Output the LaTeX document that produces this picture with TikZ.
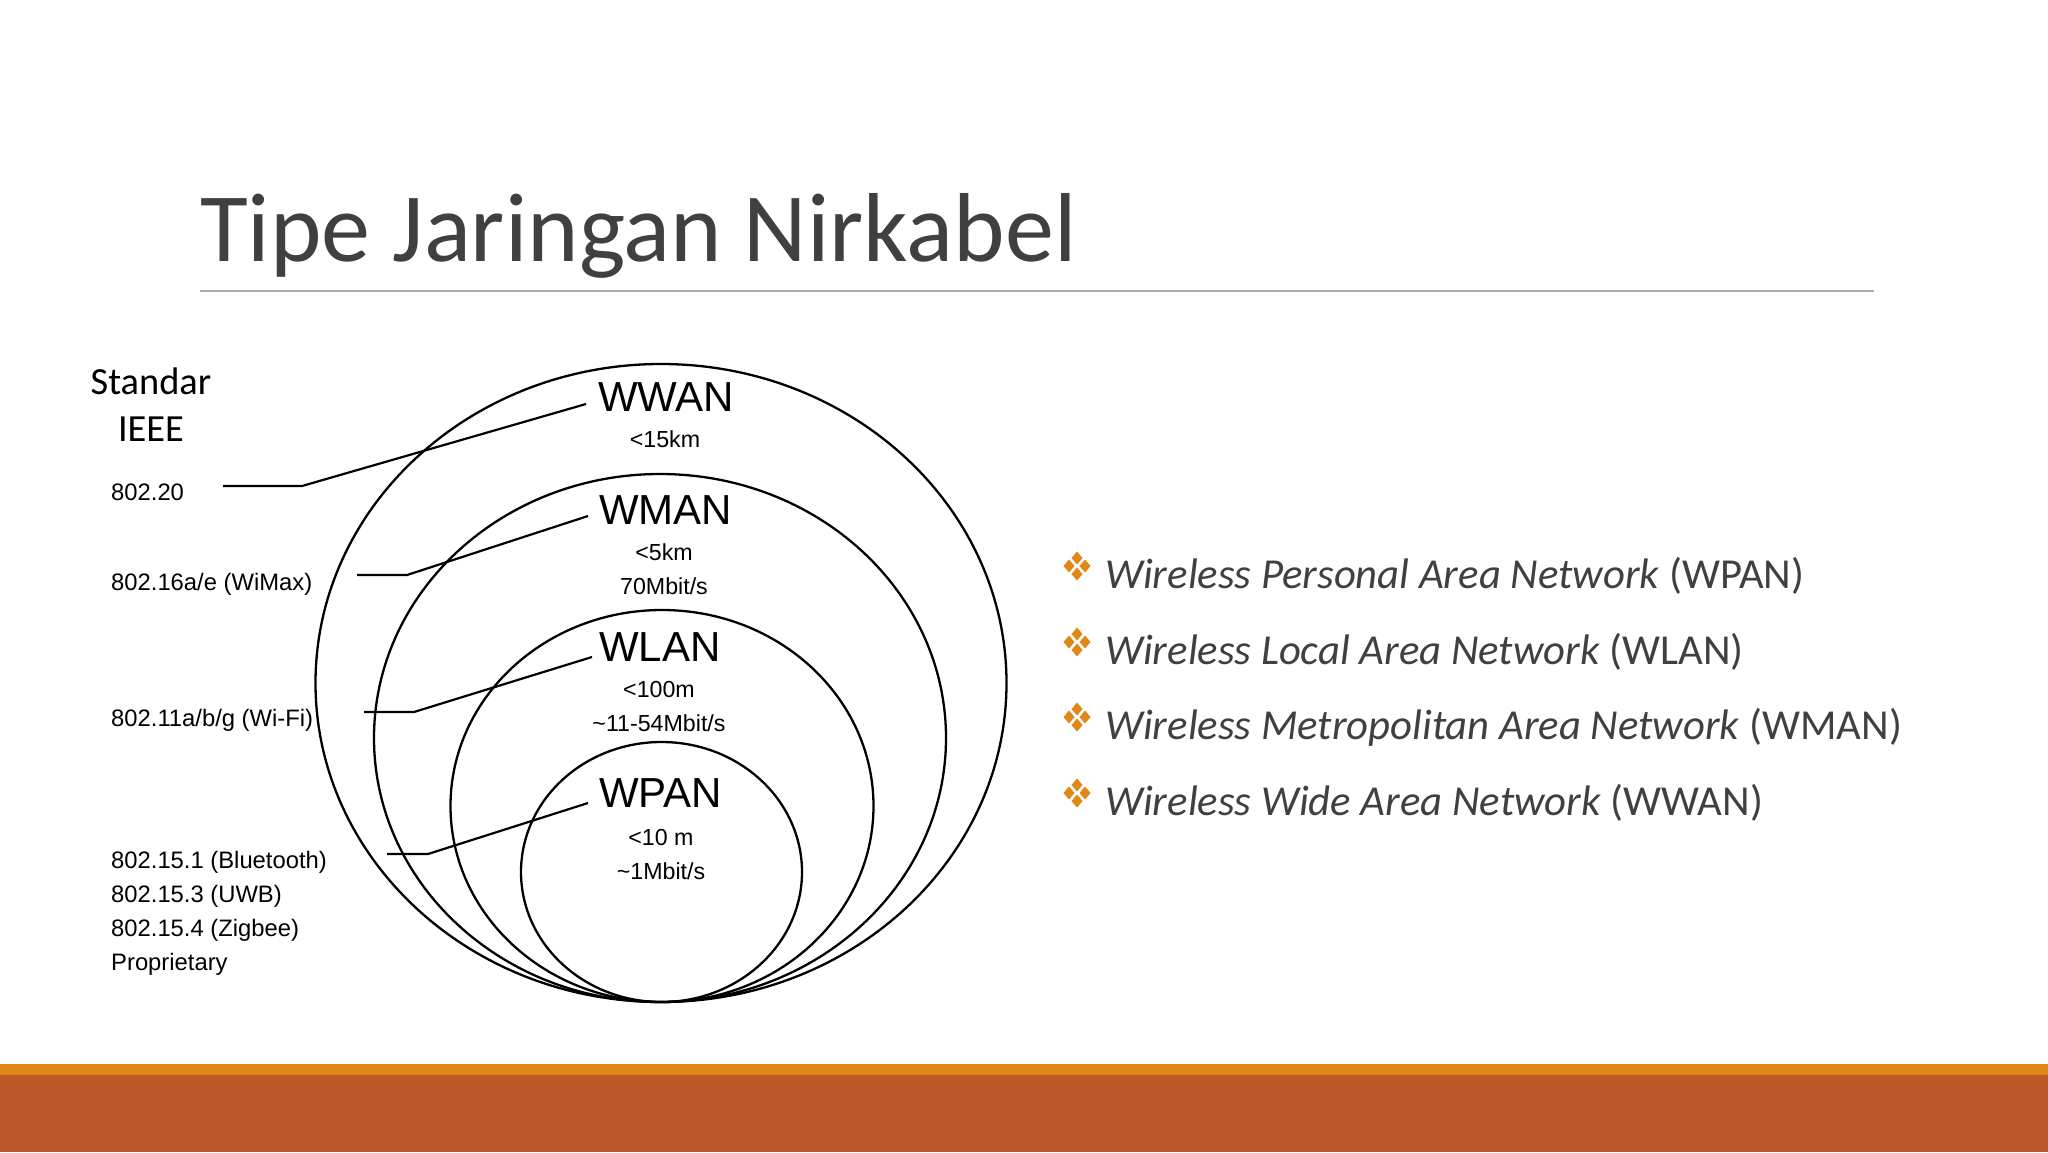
\documentclass[tikz,border=0pt]{standalone}
\usepackage{fontspec}
\setmainfont{Carlito}
\newfontfamily\arialf{Liberation Sans}
\definecolor{barorange}{HTML}{E08716}
\definecolor{bardark}{HTML}{BE582B}
\definecolor{textgray}{HTML}{404040}
\definecolor{rulegray}{HTML}{ABABAB}
\begin{document}
\begin{tikzpicture}[x=1pt,y=-1pt,
  ring/.style={draw=black,line width=2.3pt},
  leader/.style={draw=black,line width=2.2pt},
  stdlabel/.style={font=\arialf\fontsize{23.8}{28}\selectfont,anchor=base west,inner sep=0pt},
  netname/.style={font=\arialf\fontsize{42}{50}\selectfont,anchor=base west,inner sep=0pt},
  netinfo/.style={font=\arialf\fontsize{23.2}{27}\selectfont,anchor=base,inner sep=0pt},
  itemtext/.style={font=\fontsize{42.7}{51}\selectfont,text=textgray,anchor=base west,inner sep=0pt},
  quad/.pic={
    \foreach \dx/\dy in {0/-8,-8/0,8/0,0/8}{
      \fill[barorange] (\dx,\dy-6.5) -- (\dx+5.5,\dy) -- (\dx,\dy+6.5) -- (\dx-5.5,\dy) -- cycle;}
  }]
\useasboundingbox (0,0) rectangle (2048,1152);
\fill[white] (0,0) rectangle (2048,1152);

% bottom bars
\fill[barorange] (0,1064) rectangle (2048,1075);
\fill[bardark] (0,1075) rectangle (2048,1152);

% title
\node[font=\fontsize{98}{110}\selectfont,text=textgray,anchor=base west,inner sep=0pt] (title) at (200,261) {Tipe Jaringan Nirkabel};
\draw[rulegray,line width=2pt] (200,291) -- (1874,291);

% ellipses
\draw[ring] (661,683) ellipse [x radius=345.5pt, y radius=319pt];
\draw[ring] (660,738) ellipse [x radius=286pt, y radius=264pt];
\draw[ring] (662,806) ellipse [x radius=211.5pt, y radius=196pt];
\draw[ring] (661.5,872) ellipse [x radius=140.5pt, y radius=130pt];

% inner labels
\node[netname] (wwan) at (598,411) {WWAN};
\node[netinfo] (wwanr) at (665,447) {<15km};
\node[netname] (wman) at (599,524) {WMAN};
\node[netinfo] (wmanr) at (664,560) {<5km};
\node[netinfo] (wmans) at (664,594) {70Mbit/s};
\node[netname] (wlan) at (599,661) {WLAN};
\node[netinfo] (wlanr) at (659,697) {<100m};
\node[netinfo] (wlans) at (659,731) {\char"007E 11-54Mbit/s};
\node[netname] (wpan) at (599,807) {WPAN};
\node[netinfo] (wpanr) at (661,845) {<10 m};
\node[netinfo] (wpans) at (661,879) {\char"007E 1Mbit/s};

% left header
\node[font=\fontsize{38.4}{46}\selectfont,anchor=base,inner sep=0pt] (standar) at (151,394) {Standar};
\node[font=\fontsize{38.4}{46}\selectfont,anchor=base,inner sep=0pt] (ieee) at (151,441) {IEEE};

% standards
\node[stdlabel] (s20) at (111,500) {802.20};
\node[stdlabel] (s16) at (111,590) {802.16a/e (WiMax)};
\node[stdlabel] (s11) at (111,726) {802.11a/b/g (Wi-Fi)};
\node[stdlabel] (s151) at (111,868) {802.15.1 (Bluetooth)};
\node[stdlabel] (s153) at (111,902) {802.15.3 (UWB)};
\node[stdlabel] (s154) at (111,936) {802.15.4 (Zigbee)};
\node[stdlabel] (sprop) at (111,970) {Proprietary};

% leader lines
\coordinate (a1) at (223,486); \coordinate (b1) at (302,486); \coordinate (c1) at (586,404);
\coordinate (a2) at (357,575); \coordinate (b2) at (407,575); \coordinate (c2) at (588,516);
\coordinate (a3) at (364,712); \coordinate (b3) at (414,712); \coordinate (c3) at (592,657);
\coordinate (a4) at (387,854); \coordinate (b4) at (428,854); \coordinate (c4) at (588,803);
\draw[leader] (a1) -- (b1) -- (c1);
\draw[leader] (a2) -- (b2) -- (c2);
\draw[leader] (a3) -- (b3) -- (c3);
\draw[leader] (a4) -- (b4) -- (c4);

% bullet list
\pic at (1077,566) {quad};
\node[itemtext] (i1) at (1105,588) {\textit{Wireless Personal Area Network} (WPAN)};
\pic at (1077,642) {quad};
\node[itemtext] (i2) at (1105,664) {\textit{Wireless Local Area Network} (WLAN)};
\pic at (1077,717) {quad};
\node[itemtext] (i3) at (1105,739) {\textit{Wireless Metropolitan Area Network} (WMAN)};
\pic at (1077,793) {quad};
\node[itemtext] (i4) at (1105,815) {\textit{Wireless Wide Area Network} (WWAN)};
\end{tikzpicture}
\end{document}
